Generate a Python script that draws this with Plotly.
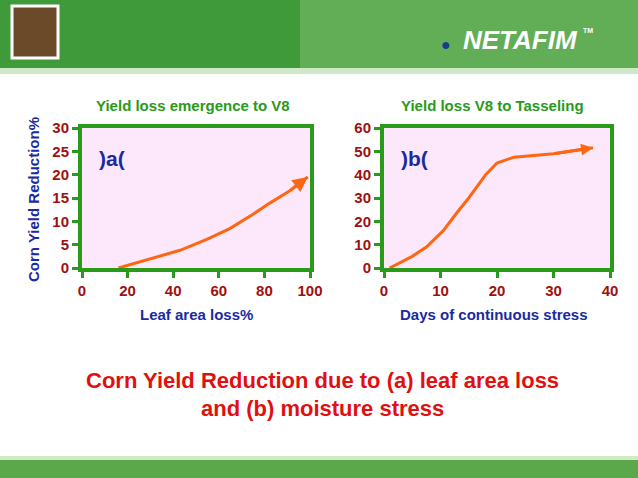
import plotly.graph_objects as go

a_x = [16, 30, 43, 55, 65, 75, 82, 91, 99]
a_y = [0, 2, 3.8, 6.2, 8.5, 11.5, 13.8, 16.5, 19.5]
b_x = [1, 5, 7.5, 10.5, 13, 15, 18, 20, 23, 30, 37]
b_y = [0, 5, 9, 16, 24, 30, 40, 45, 47.5, 49, 51.5]
a_ticks_x = [0, 20, 40, 60, 80, 100]
a_ticks_y = [0, 5, 10, 15, 20, 25, 30]
b_ticks_x = [0, 10, 20, 30, 40]
b_ticks_y = [0, 10, 20, 30, 40, 50, 60]

W, H = 638, 478
def px(x): return x / W
def py(y): return 1 - y / H

ORANGE = "#ff6611"
GREEN = "#2a9a1a"
RED = "#a01010"
BLUE = "#1a2aa0"
F = "Liberation Sans"

fig = go.Figure()
fig.add_trace(go.Scatter(x=a_x, y=a_y, mode="lines", line=dict(color=ORANGE, width=3), xaxis="x", yaxis="y", showlegend=False))
fig.add_trace(go.Scatter(x=b_x, y=b_y, mode="lines", line=dict(color=ORANGE, width=3), xaxis="x2", yaxis="y2", showlegend=False))

axcommon = dict(showgrid=False, zeroline=False, showline=True, linecolor=GREEN, linewidth=4, mirror=True,
                ticks="outside", tickcolor=GREEN, tickwidth=3, ticklen=6,
                tickfont=dict(family=F, size=15, color=RED, weight="bold"), fixedrange=True)
fig.update_layout(
    width=W, height=H, margin=dict(l=0, r=0, t=0, b=0, autoexpand=False),
    paper_bgcolor="white", plot_bgcolor="#fde8fb",
    xaxis=dict(domain=[px(82), px(310)], range=[0, 100], tickvals=a_ticks_x, anchor="y", **axcommon),
    yaxis=dict(domain=[py(268), py(128)], range=[0, 30], tickvals=a_ticks_y, anchor="x", **axcommon),
    xaxis2=dict(domain=[px(384), px(610)], range=[0, 40], tickvals=b_ticks_x, anchor="y2", **axcommon),
    yaxis2=dict(domain=[py(268), py(128)], range=[0, 60], tickvals=b_ticks_y, anchor="x2", **axcommon),
)

shapes = [
    dict(type="rect", xref="paper", yref="paper", x0=0, x1=1, y0=py(68), y1=1, fillcolor="#3f9a3a", line_width=0, layer="below"),
    dict(type="rect", xref="paper", yref="paper", x0=px(300), x1=1, y0=py(68), y1=1, fillcolor="#8cc87c", opacity=0.45, line_width=0, layer="below"),
    dict(type="rect", xref="paper", yref="paper", x0=0, x1=1, y0=py(74), y1=py(68), fillcolor="#cfe8c8", line_width=0, layer="below"),
    dict(type="rect", xref="paper", yref="paper", x0=0, x1=1, y0=0, y1=py(456), fillcolor="#5aa84a", line_width=0, layer="below"),
    dict(type="rect", xref="paper", yref="paper", x0=0, x1=1, y0=py(460), y1=py(456), fillcolor="#cfe8c8", line_width=0, layer="below"),
    dict(type="rect", xref="paper", yref="paper", x0=px(12), x1=px(58), y0=py(58), y1=py(6), fillcolor="#6b4a2a", line=dict(color="white", width=3)),
]
fig.update_layout(shapes=shapes)

ann = [
    dict(x=a_x[-1], y=a_y[-1], ax=a_x[-2], ay=a_y[-2], xref="x", yref="y", axref="x", ayref="y", text="",
         showarrow=True, arrowhead=2, arrowsize=1, arrowwidth=3, arrowcolor=ORANGE),
    dict(x=b_x[-1], y=b_y[-1], ax=b_x[-2], ay=b_y[-2], xref="x2", yref="y2", axref="x2", ayref="y2", text="",
         showarrow=True, arrowhead=2, arrowsize=0.8, arrowwidth=3, arrowcolor=ORANGE),
]
def t(x, y, s, size, color, bold=True, angle=0, font=F):
    ann.append(dict(x=px(x), y=py(y), xref="paper", yref="paper", xanchor="center", yanchor="middle",
                    text=f"<b>{s}</b>" if bold else s,
                    showarrow=False, textangle=angle, font=dict(family=font, size=size, color=color)))
t(193, 106, "Yield loss emergence to V8", 15, GREEN)
t(492, 106, "Yield loss V8 to Tasseling", 15, GREEN)
t(33, 200, "Corn Yield Reduction%", 15, BLUE, angle=-90)
t(196, 314, "Leaf area loss%", 15, BLUE)
t(494, 314, "Days of continuous stress", 15, BLUE)
t(112, 158, ")a(", 21, BLUE)
t(414, 158, ")b(", 21, BLUE)
t(322, 380, "Corn Yield Reduction due to (a) leaf area loss", 22, "#e01010")
t(322, 408, "and (b) moisture stress", 22, "#e01010")
t(520, 40, "<i>NETAFIM</i>", 26, "white")
t(588, 30, "TM", 7, "white")
t(446, 44, "●", 16, "#1a3a8a", bold=False)
fig.update_layout(annotations=ann)
fig.write_html("out.html", config={"displayModeBar": False},
               post_script="document.body.style.margin='0';document.body.style.padding='0';")
